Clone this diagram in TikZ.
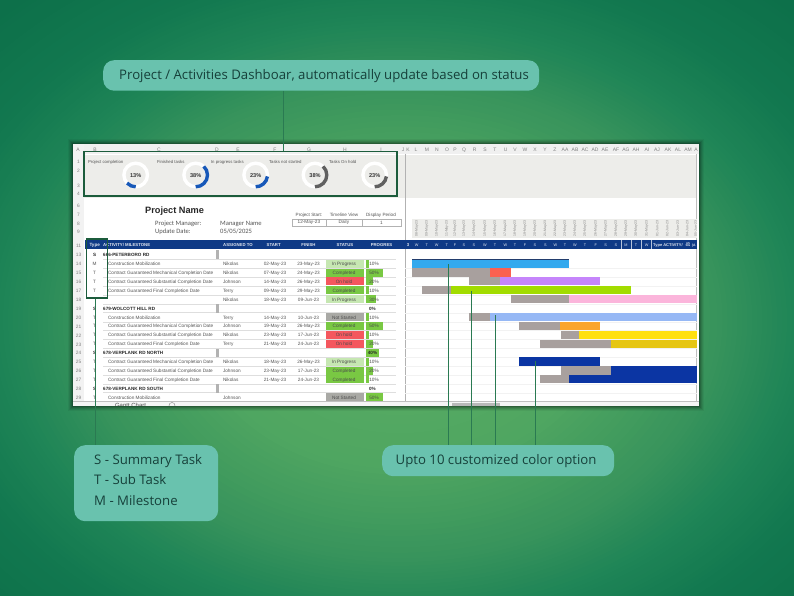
\documentclass[tikz,border=0pt]{standalone}
\usepackage{fontspec}
\setmainfont{Liberation Sans}
\newfontfamily\cvfont{Open Sans}
\newfontfamily\calfont{Carlito}
\usetikzlibrary{calc}
\definecolor{hdr}{HTML}{0F3A86}
\definecolor{band}{HTML}{EDEDEA}
\definecolor{boxg}{HTML}{1C5C3C}
\definecolor{call}{HTML}{69C2AE}
\definecolor{ctext}{HTML}{16403A}
\definecolor{linkg}{HTML}{2A7A52}
\definecolor{cellt}{HTML}{555555}
\definecolor{gridc}{HTML}{DEDEDE}
\definecolor{stIP}{HTML}{C6E7B2}
\definecolor{stC}{HTML}{79C843}
\definecolor{stH}{HTML}{F4575E}
\definecolor{stN}{HTML}{A9A9A5}
\definecolor{barg}{HTML}{A8A09E}
\definecolor{ringb}{HTML}{1758B8}
\definecolor{ringg}{HTML}{606060}
\definecolor{gsky}{HTML}{33A9EE}
\definecolor{gred}{HTML}{FA6150}
\definecolor{gpur}{HTML}{C585FB}
\definecolor{glime}{HTML}{A2DC00}
\definecolor{gpink}{HTML}{FBB5DB}
\definecolor{gpale}{HTML}{96B8F5}
\definecolor{gora}{HTML}{FBA52D}
\definecolor{gyel}{HTML}{FFE010}
\definecolor{ggold}{HTML}{E6C613}
\definecolor{gnavy}{HTML}{0B35A3}
\definecolor{bgA}{rgb}{0.36,0.68,0.39}
\definecolor{bgB}{rgb}{0.31,0.65,0.38}
\definecolor{bgC}{rgb}{0.22,0.58,0.36}
\definecolor{bgD}{rgb}{0.12,0.52,0.34}
\definecolor{bgE}{rgb}{0.07,0.47,0.31}
\definecolor{bgF}{rgb}{0.05,0.44,0.29}
\tikzset{
  txt/.style={inner sep=0pt,outer sep=0pt,anchor=base,yshift={-0.26*#1-0.6},font=\fontsize{#1}{#1}\selectfont,text=cellt},
  txt/.default=4.7,
  callout/.style={fill=call,rounded corners=11pt,inner sep=0pt,anchor=north west},
  calltext/.style={inner sep=0pt,anchor=base west,yshift=-4.6pt,text=ctext,font=\cvfont\fontsize{13.2}{13.2}\selectfont},
  link/.style={draw=linkg,line width=0.9pt},
  marker/.style={draw=boxg,line width=1.5pt,inner sep=0pt,anchor=north west},
  datebox/.style={draw=gray!60,line width=.4pt,inner sep=0pt,minimum height=7.5pt,font=\fontsize{4.7}{4.7}\selectfont,text=cellt},
  hd/.style={inner sep=0pt,anchor=base,yshift=-1.7pt,font=\bfseries\fontsize{4.3}{4.3}\selectfont,text=white!88!hdr},
  col/.style={inner sep=0pt,anchor=base,yshift=-1.8pt,font=\fontsize{5}{5}\selectfont,text=gray},
  rownum/.style={inner sep=0pt,anchor=base,yshift=-2.2pt,font=\fontsize{4.8}{4.8}\selectfont,text=gray},
  infotext/.style={inner sep=0pt,anchor=base west,yshift=-2.3pt,text=cellt,font=\calfont\fontsize{6.6}{6.6}\selectfont},
  boldcell/.style={inner sep=0pt,anchor=base,yshift=-1.9pt,font=\bfseries\fontsize{4.6}{4.6}\selectfont,text=black!85},
}
\newcommand\ring[6]{%
  \draw[white,line width=3.4pt] (#2,175) circle[radius=11.8];
  \draw[#4,line width=3.4pt] ($(#2,175)+(-#5:11.8)$) arc[start angle=-#5,end angle=-#6,radius=11.8];
  \node[inner sep=0pt,anchor=base,yshift=-2.4pt,text=black!80,font=\bfseries\fontsize{5.6}{5.6}\selectfont] (ring#1) at (#2,175) {#3};
}
\newcommand\trow[9]{%
  \draw[gridc,line width=.4pt] (103,#2+4.4) -- (396,#2+4.4);
  \node[txt] (type#1) at (94.6,#2) {#3};
  \node[txt,anchor=base west] (name#1) at (108,#2) {#4};
  \node[txt,anchor=base west] (who#1) at (223,#2) {#5};
  \node[txt] (start#1) at (275,#2) {#6};
  \node[txt] (finish#1) at (308.5,#2) {#7};
  \fill[#8] (326,#2-4) rectangle (364,#2+4);
  \node[txt,text=black!70] (status#1) at (344,#2) {#9};
}
\newcommand\pct[3]{%
  \fill[stC] (366,#2-4) rectangle (366+#3*0.33,#2+4);
  \node[txt,text=black!70] (pct#1) at (374,#2) {#3\%};
}
\newcommand\srow[4]{%
  \draw[gridc,line width=.8pt] (103,#2+4.4) -- (396,#2+4.4);
  \node[boldcell] (type#1) at (94.6,#2) {S};
  \node[boldcell,anchor=base west] (name#1) at (103,#2) {#3};
  \fill[gray!60] (216,#2-4.2) rectangle (218.5,#2+4.2);
  \node[boldcell] (pct#1) at (372.5,#2) {#4};
}
\newcommand\gbar[5]{%
  \fill[barg] (#2,#1-4.3) rectangle (#3,#1+4.1);
  \fill[#5] (#3,#1-4.3) rectangle (#4,#1+4.1);
}
\newcommand\cgm{Contract Guaranteed Mechanical Completion Date}
\newcommand\cgs{Contract Guaranteed Substantial Completion Date}
\newcommand\cgf{Contract Guaranteed Final Completion Date}
\newcommand\cmb{Construction Mobilization}
\begin{document}
\begin{tikzpicture}[x=1pt,y=-1pt]
\useasboundingbox (0,0) rectangle (794,596);
\begin{scope}
  \clip (0,0) rectangle (794,596);
  \fill[bgF] (0,0) rectangle (794,596);
  \foreach \ca/\cb/\ra/\rb in {bgF/bgE/1.44/1.2,bgE/bgD/1.2/1.0,bgD/bgC/1.0/0.8,bgC/bgB/0.8/0.5,bgB/bgA/0.5/0.02}{
    \foreach \s in {0,...,15}{
      \pgfmathsetmacro\rr{\ra+(\rb-\ra)*\s/16}
      \pgfmathsetmacro\pp{100*\s/16}
      \fill[\cb!\pp!\ca] (400,320) ellipse[x radius=397*\rr,y radius=298*\rr];
    }
  }
\end{scope}
\foreach \d/\o in {5/.05,4/.07,3/.09,2/.12,1/.16}{
  \fill[black,opacity=\o] (73-\d,144-\d) rectangle (699+\d,405.5+\d);
}
\fill[white] (73,144) rectangle (699,405.5);
\fill[gray!12] (73,144) rectangle (699,154);
\fill[gray!10] (73,144) rectangle (84,405);
\fill[band] (84,155) rectangle (696.5,198);
\draw[gray!60,line width=.5pt] (405,154) -- (405,402);
\draw[gray!50,line width=.5pt] (696.7,154) -- (696.7,402);
\foreach \x/\l/\n in {78/A/a,95/B/b,159/C/c,217/D/d,238/E/e,275/F/f,309/G/g,345/H/h,381/I/i,403/J/j,408/K/k,416/L/l,427/M/m,437/N/n,447/O/o,455/P/p,464/Q/q,474.7/R/r,485/S/s,495/T/t,505.7/U/u,515/V/v,525/W/w,535/X/x,545/Y/y,555/Z/z,565/AA/aa,575/AB/ab,585/AC/ac,595/AD/ad,605/AE/ae,616/AF/af,626/AG/ag,636/AH/ah,647/AI/ai,657/AJ/aj,668/AK/ak,678/AL/al,688/AM/am,696/A/an}{
  \node[col] (col\n) at (\x,150) {\l};
}
\foreach \y/\l in {161/1,170/2,185/3,193/4,205/6,214/7,223/8,231/9,245/11,254.5/13,263.5/14,272.7/15,281.3/16,290.3/17,299.3/18,308.3/19,317.3/20,326/21,335/22,344/23,352.7/24,361.7/25,370.7/26,379.3/27,388.3/28,397.3/29}{
  \node[rownum] (num\l) at (78.5,\y) {\l};
}
\foreach \x/\l/\n in {88/Project completion/a,157/Finished tasks/b,211/In progress tasks/c,269/Tasks not started/d,329/Tasks On hold/e}{
  \node[txt=4.3,anchor=base west] (dashlab\n) at (\x,162) {\l};
}
\ring{a}{135.7}{13\%}{ringb}{270}{223}
\ring{b}{195.7}{38\%}{ringb}{270}{407}
\ring{c}{255.7}{23\%}{ringb}{270}{353}
\ring{d}{315}{38\%}{ringg}{270}{407}
\ring{e}{374.7}{23\%}{ringg}{270}{353}
\node[inner sep=0pt,anchor=base west,yshift=-3.8pt,font=\bfseries\fontsize{9.2}{9.2}\selectfont,text=black!85] (title) at (145,209.5) {Project Name};
\node[infotext] (pm) at (155,222.8) {Project Manager:};
\node[infotext] (pmv) at (220,222.8) {Manager Name};
\node[infotext] (ud) at (155,231.5) {Update Date:};
\node[infotext] (udv) at (220,231.5) {05/05/2025};
\node[txt=4.6] (ps) at (309,215) {Project Start:};
\node[txt=4.6] (tv) at (344,215) {Timeline View};
\node[txt=4.6] (dp) at (381,215) {Display Period};
\node[datebox,minimum width=33.7pt] (psv) at (308.9,222.7) {12-May-23};
\node[datebox,minimum width=36.3pt] (tvv) at (343.9,222.7) {Daily};
\node[datebox,minimum width=39pt] (dpv) at (381.5,222.7) {1};
\fill[band] (412,219) rectangle (697,238);
\foreach \x/\l [count=\i] in {416.7/08-May-23,426.7/09-May-23,436.7/10-May-23,446.7/11-May-23,455/12-May-23,464/13-May-23,474/14-May-23,485/15-May-23,495/16-May-23,505.3/17-May-23,515/18-May-23,525/19-May-23,535/20-May-23,545.3/21-May-23,555.3/22-May-23,565/23-May-23,575/24-May-23,585/25-May-23,595.7/26-May-23,605.7/27-May-23,616/28-May-23,626/29-May-23,636/30-May-23,646.7/31-May-23,657.3/01-Jun-23,667.3/02-Jun-23,677.7/03-Jun-23,687.3/04-Jun-23,695.7/05-Jun-23}{
  \node[inner sep=0pt,rotate=90,font=\fontsize{3.4}{3.4}\selectfont,text=gray] (date\i) at (\x,228.5) {\l};
}
\fill[hdr] (85,240) rectangle (697,249);
\node[hd,font=\bfseries\fontsize{4.6}{4.6}\selectfont] (hA) at (94.7,244.7) {Type};
\node[hd,anchor=base west] (hB) at (103,244.7) {ACTIVITY/ MILESTONE};
\node[hd] (hC) at (238,244.7) {ASSIGNED TO};
\node[hd] (hD) at (273.7,244.7) {START};
\node[hd] (hE) at (308.5,244.7) {FINISH};
\node[hd] (hF) at (345,244.7) {STATUS};
\node[hd] (hG) at (381.5,244.7) {PROGRES};
\node[hd] (hH) at (408,244.7) {3};
\foreach \x/\l [count=\i] in {416.7/W,426.7/T,436.7/W,446.7/T,455/F,464/S,474/S,485/W,495/T,505.3/W,515/T,525/F,535/S,545.3/S,555.3/W,565/T,575/W,585/T,595.7/F,605.7/S,616/S,626/M,636/T,646.7/W}{
  \node[hd,font=\fontsize{3.8}{3.8}\selectfont] (wk\i) at (\x,244.7) {\l};
}
\foreach \x in {621,631,641,651}{\draw[white!70!hdr,line width=.35pt] (\x,240) -- (\x,249);}
\node[hd,anchor=base west,font=\bfseries\fontsize{4}{4}\selectfont] (hI) at (653,244.7) {Type ACTIVITY/};
\node[inner sep=0pt,text=white!88!hdr,font=\bfseries\fontsize{2.8}{2.8}\selectfont,align=center] (hJ) at (688,244.5) {AS\\SIG};
\node[hd,font=\bfseries\fontsize{3.4}{3.4}\selectfont] (hK) at (693.7,244.7) {(A};
\srow{13}{254.5}{666-PETERBORO RD}{}
\trow{14}{263.5}{M}{\cmb}{Nikolas}{02-May-23}{23-May-23}{stIP}{In Progress}\pct{14}{263.5}{10}
\trow{15}{272.7}{T}{\cgm}{Nikolas}{07-May-23}{24-May-23}{stC}{Completed}\pct{15}{272.7}{50}
\trow{16}{281.3}{T}{\cgs}{Johnson}{14-May-23}{26-May-23}{stH}{On hold}\pct{16}{281.3}{20}
\trow{17}{290.3}{T}{\cgf}{Terry}{09-May-23}{29-May-23}{stC}{Completed}\pct{17}{290.3}{10}
\trow{18}{299.3}{}{}{Nikolas}{18-May-23}{09-Jun-23}{stIP}{In Progress}\pct{18}{299.3}{30}
\srow{19}{308.3}{679-WOLCOTT HILL RD}{0\%}
\trow{20}{317.3}{T}{\cmb}{Terry}{14-May-23}{10-Jun-23}{stN}{Not Started}\pct{20}{317.3}{10}
\trow{21}{326}{T}{\cgm}{Johnson}{19-May-23}{26-May-23}{stC}{Completed}\pct{21}{326}{50}
\trow{22}{335}{T}{\cgs}{Nikolas}{23-May-23}{17-Jun-23}{stH}{On hold}\pct{22}{335}{10}
\trow{23}{344}{T}{\cgf}{Terry}{21-May-23}{24-Jun-23}{stH}{On hold}\pct{23}{344}{20}
\fill[stC] (366,348.7) rectangle (379.2,356.7);
\srow{24}{352.7}{678-VERPLANK RD NORTH}{40\%}
\trow{25}{361.7}{T}{\cgm}{Nikolas}{18-May-23}{26-May-23}{stIP}{In Progress}\pct{25}{361.7}{10}
\trow{26}{370.7}{T}{\cgs}{Johnson}{23-May-23}{17-Jun-23}{stC}{Completed}\pct{26}{370.7}{20}
\trow{27}{379.3}{T}{\cgf}{Nikolas}{21-May-23}{24-Jun-23}{stC}{Completed}\pct{27}{379.3}{10}
\srow{28}{388.3}{678-VERPLANK RD SOUTH}{0\%}
\trow{29}{397.3}{T}{\cmb}{Johnson}{}{}{stN}{Not Started}\pct{29}{397.3}{50}
\foreach \y in {267.9,277.1,285.7,294.7,303.7,312.7,321.7,330.4,339.4,348.4,357.1,366.1,375.1,383.7,392.7}{
  \draw[gray!10,line width=.4pt] (405,\y) -- (696.7,\y);
}
\fill[black!30!hdr,opacity=.9] (411.5,259.3) rectangle (569.3,268.4);
\fill[gsky] (412,260) rectangle (569,268);
\gbar{272.7}{412}{490}{510.7}{gred}
\gbar{281.3}{469.3}{500}{600}{gpur}
\gbar{290.3}{421.7}{450.7}{631}{glime}
\gbar{299.3}{510.7}{569}{696.7}{gpink}
\gbar{317.3}{469.3}{490}{696.7}{gpale}
\gbar{326}{519.3}{560}{600}{gora}
\gbar{335}{560.7}{579.3}{696.7}{gyel}
\gbar{344}{540}{610.7}{696.7}{ggold}
\fill[gnavy] (519.3,357.4) rectangle (600,365.8);
\gbar{370.7}{560.7}{610.7}{696.7}{gnavy}
\gbar{379.3}{540}{569}{696.7}{gnavy}
\begin{scope}
  \clip (73,399) rectangle (699,405.5);
  \fill[gray!8] (73,401.5) rectangle (699,405.5);
  \draw[gray!50,line width=.5pt] (73,401.5) -- (699,401.5);
  \node[txt=6,text=black!70,anchor=base west] (tab) at (115,405) {Gantt Chart};
  \draw[gray,line width=.4pt] (172,405.5) circle[radius=3];
  \fill[gray!55] (452,403) rectangle (500,405.5);
\end{scope}
\node[callout,minimum width=436pt,minimum height=30.5pt] (dash) at (103,60) {};
\node[calltext] (dashtext) at (119,75) {Project / Activities Dashboar, automatically update based on status};
\node[callout,minimum width=144pt,minimum height=76pt] (types) at (74,445) {};
\node[calltext] (ts) at (94,460) {S - Summary Task};
\node[calltext] (tt) at (94,480) {T - Sub Task};
\node[calltext] (tm) at (94,501.3) {M - Milestone};
\node[callout,minimum width=232pt,minimum height=31pt] (colours) at (382,445) {};
\node[calltext] (ctxt) at (395.5,459.5) {Upto 10 customized color option};
\node[marker,draw,minimum width=313pt,minimum height=44pt] (dashbox) at (83,151) {};
\node[marker,draw,minimum width=21pt,minimum height=59pt] (typebox) at (85.7,238) {};
\coordinate (d1) at (283,120);
\coordinate (c1) at (448.3,264);
\coordinate (c2) at (471.7,291);
\coordinate (c3) at (495.5,315);
\coordinate (c4) at (535,361);
\draw[link] (d1 |- dash.south) -- (d1 |- dashbox.north);
\coordinate (t1) at (95.3,297);
\draw[link] (t1 |- typebox.south) -- (t1 |- types.north);
\foreach \c in {c1,c2,c3,c4}{
  \draw[link] (\c) -- (\c |- colours.north);
}
\end{tikzpicture}
\end{document}
